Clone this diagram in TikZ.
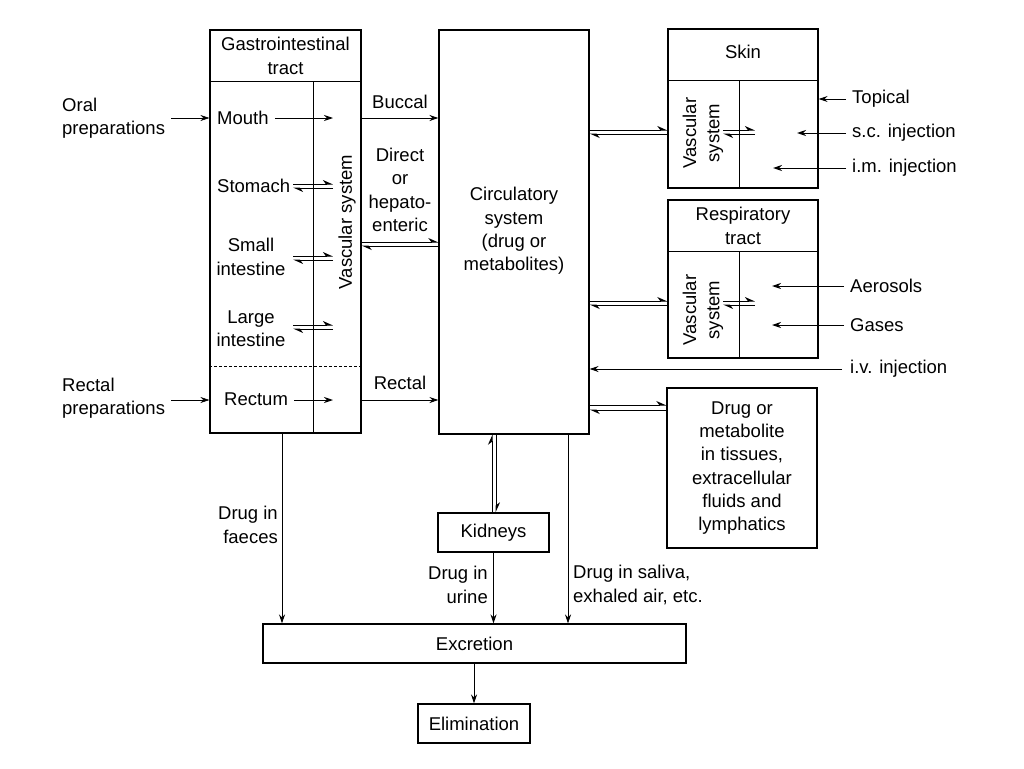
\documentclass[tikz,border=0pt]{standalone}
\usepackage{fontspec}
\setmainfont{Liberation Sans}
\usetikzlibrary{arrows.meta}
\begin{document}
\begin{tikzpicture}[x=1pt,y=-1pt,
  font=\fontsize{18.5}{23.3}\selectfont,
  box/.style={draw, line width=1.1pt, inner sep=0pt},
  lbl/.style={inner sep=0pt, align=center},
  lbll/.style={inner sep=0pt, align=left},
  lblr/.style={inner sep=0pt, align=right},
  ln/.style={line width=1pt},
  arr/.style={line width=1pt, -{Stealth[length=9pt,width=6pt]}},
  farr/.style={line width=0.6pt, -{Stealth[length=9pt,width=6pt]}},
  harp/.style={line width=1pt, -{Stealth[length=9pt,width=8pt,harpoon]}},
]
\useasboundingbox (0,0) rectangle (1024,768);

% ---------- boxes ----------
\node[box, minimum width=151pt, minimum height=403pt] (gi) at (285.5,231.5) {};
\node[box, minimum width=150pt, minimum height=404pt] (circ) at (514,232) {};
\node[box, minimum width=150pt, minimum height=159pt] (skin) at (743,108.5) {};
\node[box, minimum width=150pt, minimum height=158pt] (resp) at (743,279) {};
\node[box, minimum width=150pt, minimum height=160pt] (tis) at (742,468) {};
\node[box, minimum width=111pt, minimum height=39pt] (kid) at (493.5,532.5) {Kidneys};
\node[box, minimum width=423pt, minimum height=39pt] (exc) at (474.5,643.5) {Excretion};
\node[box, minimum width=112pt, minimum height=39pt] (elim) at (474,723.5) {Elimination};

% ---------- helper coordinates ----------
\coordinate (hGI) at (0,81);
\coordinate (vGI) at (313,0);
\coordinate (dGI) at (0,366);
\coordinate (hSK) at (0,80);
\coordinate (vSK) at (739,0);
\coordinate (hRS) at (0,251);

% ---------- box internals ----------
\draw[ln] (gi.west |- hGI) -- (gi.east |- hGI);
\draw[ln] (vGI |- hGI) -- (vGI |- gi.south);
\draw[line width=0.7pt, dash pattern=on 3pt off 2pt] (gi.west |- dGI) -- (gi.east |- dGI);
\draw[ln] (skin.west |- hSK) -- (skin.east |- hSK);
\draw[ln] (vSK |- hSK) -- (vSK |- skin.south);
\draw[ln] (resp.west |- hRS) -- (resp.east |- hRS);
\draw[ln] (vSK |- hRS) -- (vSK |- resp.south);

% ---------- texts in boxes ----------
\node[lbl] (githead) at (285.5,56) {Gastrointestinal\\tract};
\node[lbl, rotate=90] (givs) at (347,222) {Vascular system};
\node[lbl] (circtext) at (514,231) {Circulatory\\system\\(drug or\\metabolites)};
\node[lbl] (skinhead) at (743,52) {Skin};
\node[lbl, rotate=90] (skinvs) at (703,133) {Vascular\\system};
\node[lbl] (resphead) at (743,226) {Respiratory\\tract};
\node[lbl, rotate=90] (respvs) at (703,310) {Vascular\\system};
\node[lbl] (tistext) at (742,468) {Drug or\\metabolite\\in tissues,\\extracellular\\fluids and\\lymphatics};

% ---------- GI tract contents ----------
\node[lbll, anchor=west] (mouth) at (217,118) {Mouth};
\node[lbll, anchor=west] (stomach) at (217,186) {Stomach};
\node[lbl] (small) at (251,257) {Small\\intestine};
\node[lbl] (large) at (251,329) {Large\\intestine};
\node[lbll, anchor=west] (rectum) at (224,399) {Rectum};

\coordinate (gvm) at (333,118);
\coordinate (gvs1) at (333,184);
\coordinate (gvs2) at (333,188);
\coordinate (gss1) at (293,184);
\coordinate (gss2) at (293,188);
\coordinate (gvi1) at (333,256);
\coordinate (gvi2) at (333,260);
\coordinate (gsi1) at (293,256);
\coordinate (gsi2) at (293,260);
\coordinate (gvl1) at (333,325);
\coordinate (gvl2) at (333,329);
\coordinate (gsl1) at (293,325);
\coordinate (gsl2) at (293,329);
\coordinate (gvr) at (333,400);

\draw[arr, shorten <=6pt] (mouth.east) -- (gvm);
\draw[harp] (gss1) -- (gvs1);
\draw[harp] (gvs2) -- (gss2);
\draw[harp] (gsi1) -- (gvi1);
\draw[harp] (gvi2) -- (gsi2);
\draw[harp] (gsl1) -- (gvl1);
\draw[harp] (gvl2) -- (gsl2);
\draw[arr, shorten <=6pt] (rectum.east |- gvr) -- (gvr);

% ---------- inputs on the left ----------
\node[lbll, anchor=west] (oral) at (62,118) {Oral\\preparations};
\node[lbll, anchor=west] (rectprep) at (62,398) {Rectal\\preparations};
\coordinate (y118) at (0,118);
\coordinate (y400) at (0,400);
\draw[farr, shorten <=6pt] (oral.east |- y118) -- (gi.west |- y118);
\draw[farr, shorten <=6pt] (rectprep.east |- y400) -- (gi.west |- y400);

% ---------- GI to circulation ----------
\draw[arr] (gi.east |- y118) -- (circ.west |- y118);
\node[lbl] (buccal) at (400,102) {Buccal};
\coordinate (yd1) at (0,242);
\coordinate (yd2) at (0,246);
\draw[harp] (gi.east |- yd1) -- (circ.west |- yd1);
\draw[harp] (circ.west |- yd2) -- (gi.east |- yd2);
\node[lbl] (direct) at (400,190) {Direct\\or\\hepato-\\enteric};
\draw[arr] (gi.east |- y400) -- (circ.west |- y400);
\node[lbl] (rectal) at (400,383) {Rectal};

% ---------- skin ----------
\coordinate (ys1) at (0,130);
\coordinate (ys2) at (0,134);
\draw[harp] (circ.east |- ys1) -- (skin.west |- ys1);
\draw[harp] (skin.west |- ys2) -- (circ.east |- ys2);
\coordinate (sk1a) at (723,130);
\coordinate (sk1b) at (755,130);
\coordinate (sk2a) at (723,134);
\coordinate (sk2b) at (755,134);
\draw[harp] (sk1a) -- (sk1b);
\draw[harp] (sk2b) -- (sk2a);

\node[lbll, anchor=west] (topical) at (852,99) {Topical};
\node[lbll, anchor=west] (sc) at (852,133) {s.c. injection};
\node[lbll, anchor=west] (im) at (852,168) {i.m. injection};
\coordinate (scend) at (797,133);
\coordinate (imend) at (773,168);
\draw[arr, shorten <=6pt] (topical.west) -- (skin.east |- topical.west);
\draw[arr, shorten <=6pt] (sc.west) -- (scend);
\draw[arr, shorten <=6pt] (im.west) -- (imend);

% ---------- respiratory ----------
\coordinate (yr1) at (0,301);
\coordinate (yr2) at (0,305);
\draw[harp] (circ.east |- yr1) -- (resp.west |- yr1);
\draw[harp] (resp.west |- yr2) -- (circ.east |- yr2);
\coordinate (rs1a) at (723,301);
\coordinate (rs1b) at (755,301);
\coordinate (rs2a) at (723,305);
\coordinate (rs2b) at (755,305);
\draw[harp] (rs1a) -- (rs1b);
\draw[harp] (rs2b) -- (rs2a);

\node[lbll, anchor=west] (aero) at (850,286) {Aerosols};
\node[lbll, anchor=west] (gases) at (850,325) {Gases};
\coordinate (aeend) at (772,286);
\coordinate (gaend) at (772,325);
\draw[arr, shorten <=6pt] (aero.west) -- (aeend);
\draw[arr, shorten <=6pt] (gases.west) -- (gaend);

% ---------- i.v. ----------
\node[lbll, anchor=west] (iv) at (850,369) {i.v. injection};
\draw[arr, shorten <=8pt] (iv.west) -- (circ.east |- iv.west);

% ---------- tissues ----------
\coordinate (yt1) at (0,405);
\coordinate (yt2) at (0,410);
\draw[harp] (circ.east |- yt1) -- (tis.west |- yt1);
\draw[harp] (tis.west |- yt2) -- (circ.east |- yt2);

% ---------- kidneys & excretion ----------
\coordinate (kx1) at (492,0);
\coordinate (kx2) at (496,0);
\draw[harp] (kx1 |- kid.north) -- (kx1 |- circ.south);
\draw[harp] (kx2 |- circ.south) -- (kx2 |- kid.north);

\coordinate (fx) at (282,0);
\coordinate (sx) at (568,0);
\draw[arr] (fx |- gi.south) -- (fx |- exc.north);
\draw[arr] (kid.south) -- (kid.south |- exc.north);
\draw[arr, line width=0.7pt] (sx |- circ.south) -- (sx |- exc.north);
\draw[arr] (exc.south -| elim.north) -- (elim.north);

\node[lblr, anchor=east] (faeces) at (278,525) {Drug in\\faeces};
\node[lblr, anchor=east] (urine) at (488,585) {Drug in\\urine};
\node[lbll, anchor=west] (saliva) at (573,585) {Drug in saliva,\\exhaled air, etc.};
\end{tikzpicture}
\end{document}
